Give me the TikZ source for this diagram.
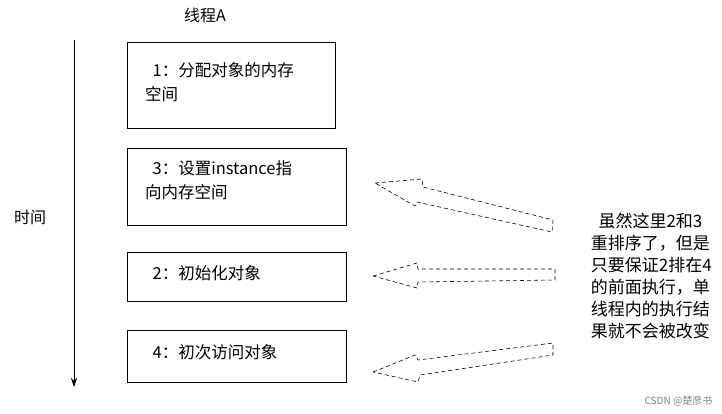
\documentclass[tikz,border=0pt]{standalone}
\usepackage{fontspec}
\usetikzlibrary{arrows.meta}
\setmainfont{Liberation Serif}
\newfontfamily\cjk{Noto Sans CJK SC}
\begin{document}
\begin{tikzpicture}[x=1pt,y=-1pt,
  box/.style={draw,line width=0.6pt},
  txt/.style={font=\cjk\fontsize{16.5}{24}\selectfont,anchor=north west,align=left,inner sep=0},
  barrow/.style={draw,dashed,line width=0.6pt,dash pattern=on 4pt off 3pt}]
\useasboundingbox (0,0) rectangle (722,413);
\draw[box] (127,42) rectangle (335,128);
\draw[box] (127,148) rectangle (346,225);
\draw[box] (127,252) rectangle (346,301);
\draw[box] (127,330) rectangle (346,382);
\node[txt] (t1) at (145,62) {\ \ 1：分配对象的内存\\空间};
\node[txt] (t2) at (145,160) {\ \ 3：设置instance指\\向内存空间};
\node[txt] (t3) at (145,265) {\ \ 2：初始化对象};
\node[txt] (t4) at (145,344) {\ \ 4：初次访问对象};
\node[font=\cjk\fontsize{16}{18}\selectfont] (thr) at (205,15) {线程A};
\node[font=\cjk\fontsize{16}{18}\selectfont] (tm) at (30,217) {时间};
\coordinate (a0) at (74,40); \coordinate (a1) at (74,387);
\draw[-{Stealth[length=9pt,width=6pt]},line width=0.8pt] (a0) -- (a1);
\draw[barrow] (375,183) -- (422,179) -- (423,187) -- (553,220) -- (552,232) -- (417,202) -- (415,206) -- cycle;
\draw[barrow] (373,276) -- (417,263) -- (418,269) -- (555,269) -- (555,280) -- (418,282) -- (417,288) -- cycle;
\draw[barrow] (373,372) -- (415,355) -- (418,360) -- (553,343) -- (553,355) -- (420,375) -- (418,382) -- cycle;
\node[font=\cjk\fontsize{17}{22}\selectfont,anchor=north east,align=left,inner sep=0] (note) at (712,213)
 {\ \ 虽然这里2和3\\重排序了，但是\\只要保证2排在4\\的前面执行，单\\线程内的执行结\\果就不会被改变};
\node[font=\cjk\fontsize{10}{12}\selectfont,text=gray,anchor=south east] (wm) at (716,410) {CSDN @楚彦书};
\end{tikzpicture}
\end{document}
